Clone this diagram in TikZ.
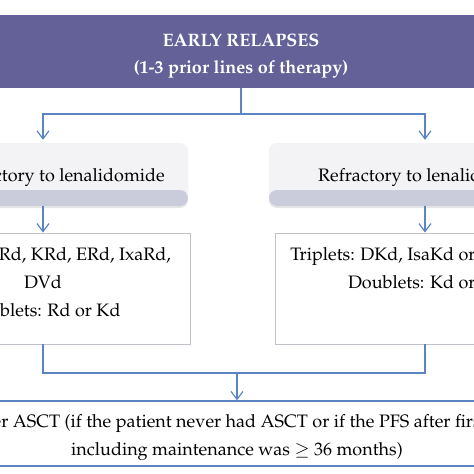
\documentclass[tikz,border=0pt]{standalone}
\usepackage[T1]{fontenc}
\usepackage{mathpazo}
\usetikzlibrary{arrows.meta,shadows}
\definecolor{relapsePurple}{HTML}{646199}
\definecolor{linkBlue}{HTML}{5B84C0}
\definecolor{bandGray}{HTML}{CACBDB}
\definecolor{topGray}{HTML}{F3F3F6}
\definecolor{frameGray}{HTML}{BFC2C8}
\tikzset{%
  >={Straight Barb[length=8pt,width=12pt]},
  % Specifications for style of nodes:
        base/.style = {rectangle, inner sep=0pt, align=center,
                       text centered, font=\fontsize{18pt}{28pt}\selectfont},
    headline/.style = {base, fill=relapsePurple, text=white,
                       minimum width=520pt, minimum height=73pt,
                       text height=44pt, text depth=0pt,
                       font=\fontsize{18pt}{27pt}\selectfont\bfseries},
  refractory/.style = {base, rounded corners=8pt, fill=topGray, minimum height=63pt,
                       text height=13pt, text depth=0pt,
                       drop shadow={shadow xshift=0pt, shadow yshift=-2pt, opacity=0.2},
                       path picture={\fill[bandGray] ([yshift=16pt]path picture bounding box.south west)
                                     rectangle (path picture bounding box.south east);}},
     regimen/.style = {base, draw=frameGray, line width=0.9pt, fill=white, minimum height=111pt,
                       text height=69pt, text depth=14pt},
  transplant/.style = {base, draw=linkBlue, line width=1.2pt, minimum width=540pt, minimum height=65pt,
                       text height=43pt, text depth=0pt},
        link/.style = {draw=linkBlue, line width=1.2pt},
}
\begin{document}
\begin{tikzpicture}[x=1pt, y=-1pt]
                    \useasboundingbox (0,0) rectangle (474,474);
                    \clip (0,0) rectangle (474,474);
                    \node (early)   [headline] at (241,51.5)  {EARLY RELAPSES\\(1-3 prior lines of therapy)};
                    \node (refrNot) [refractory, minimum width=290pt] at (43,174.5)  {Not refractory to lenalidomide};
                    \node (refrYes) [refractory, minimum width=312pt] at (425,174.5) {Refractory to lenalidomide};
                    \node (triNot)  [regimen, minimum width=294pt]    at (43,288.5)  {Triplets: DRd, KRd, ERd, IxaRd,\\DVd\\Doublets: Rd or Kd};
                    \node (triYes)  [regimen, minimum width=300pt]    at (425,288.5) {Triplets: DKd, IsaKd or PVd, DPd\\Doublets: Kd or Pd\\\mbox{}};
                    \node (asct)    [transplant] at (237,433.5) {Consider ASCT (if the patient never had ASCT or if the PFS after first ASCT\\including maintenance was $\geq$ 36 months)};
                    \coordinate (split) at (241,114);
                    \coordinate (merge) at (237,373);

                    \draw[link] (early.south) -- (split);
                    \draw[link, ->, shorten >=3pt] (split) -| (refrNot.north);
                    \draw[link, ->, shorten >=3pt] (split) -| (refrYes.north);
                    \draw[link, ->] (refrNot.south) -- (triNot.north);
                    \draw[link, ->] (refrYes.south) -- (triYes.north);
                    \draw[link] (triNot.south) |- (merge);
                    \draw[link] (triYes.south) |- (merge);
                    \draw[link, ->] (merge) -- (asct.north);
                \end{tikzpicture}
\end{document}
